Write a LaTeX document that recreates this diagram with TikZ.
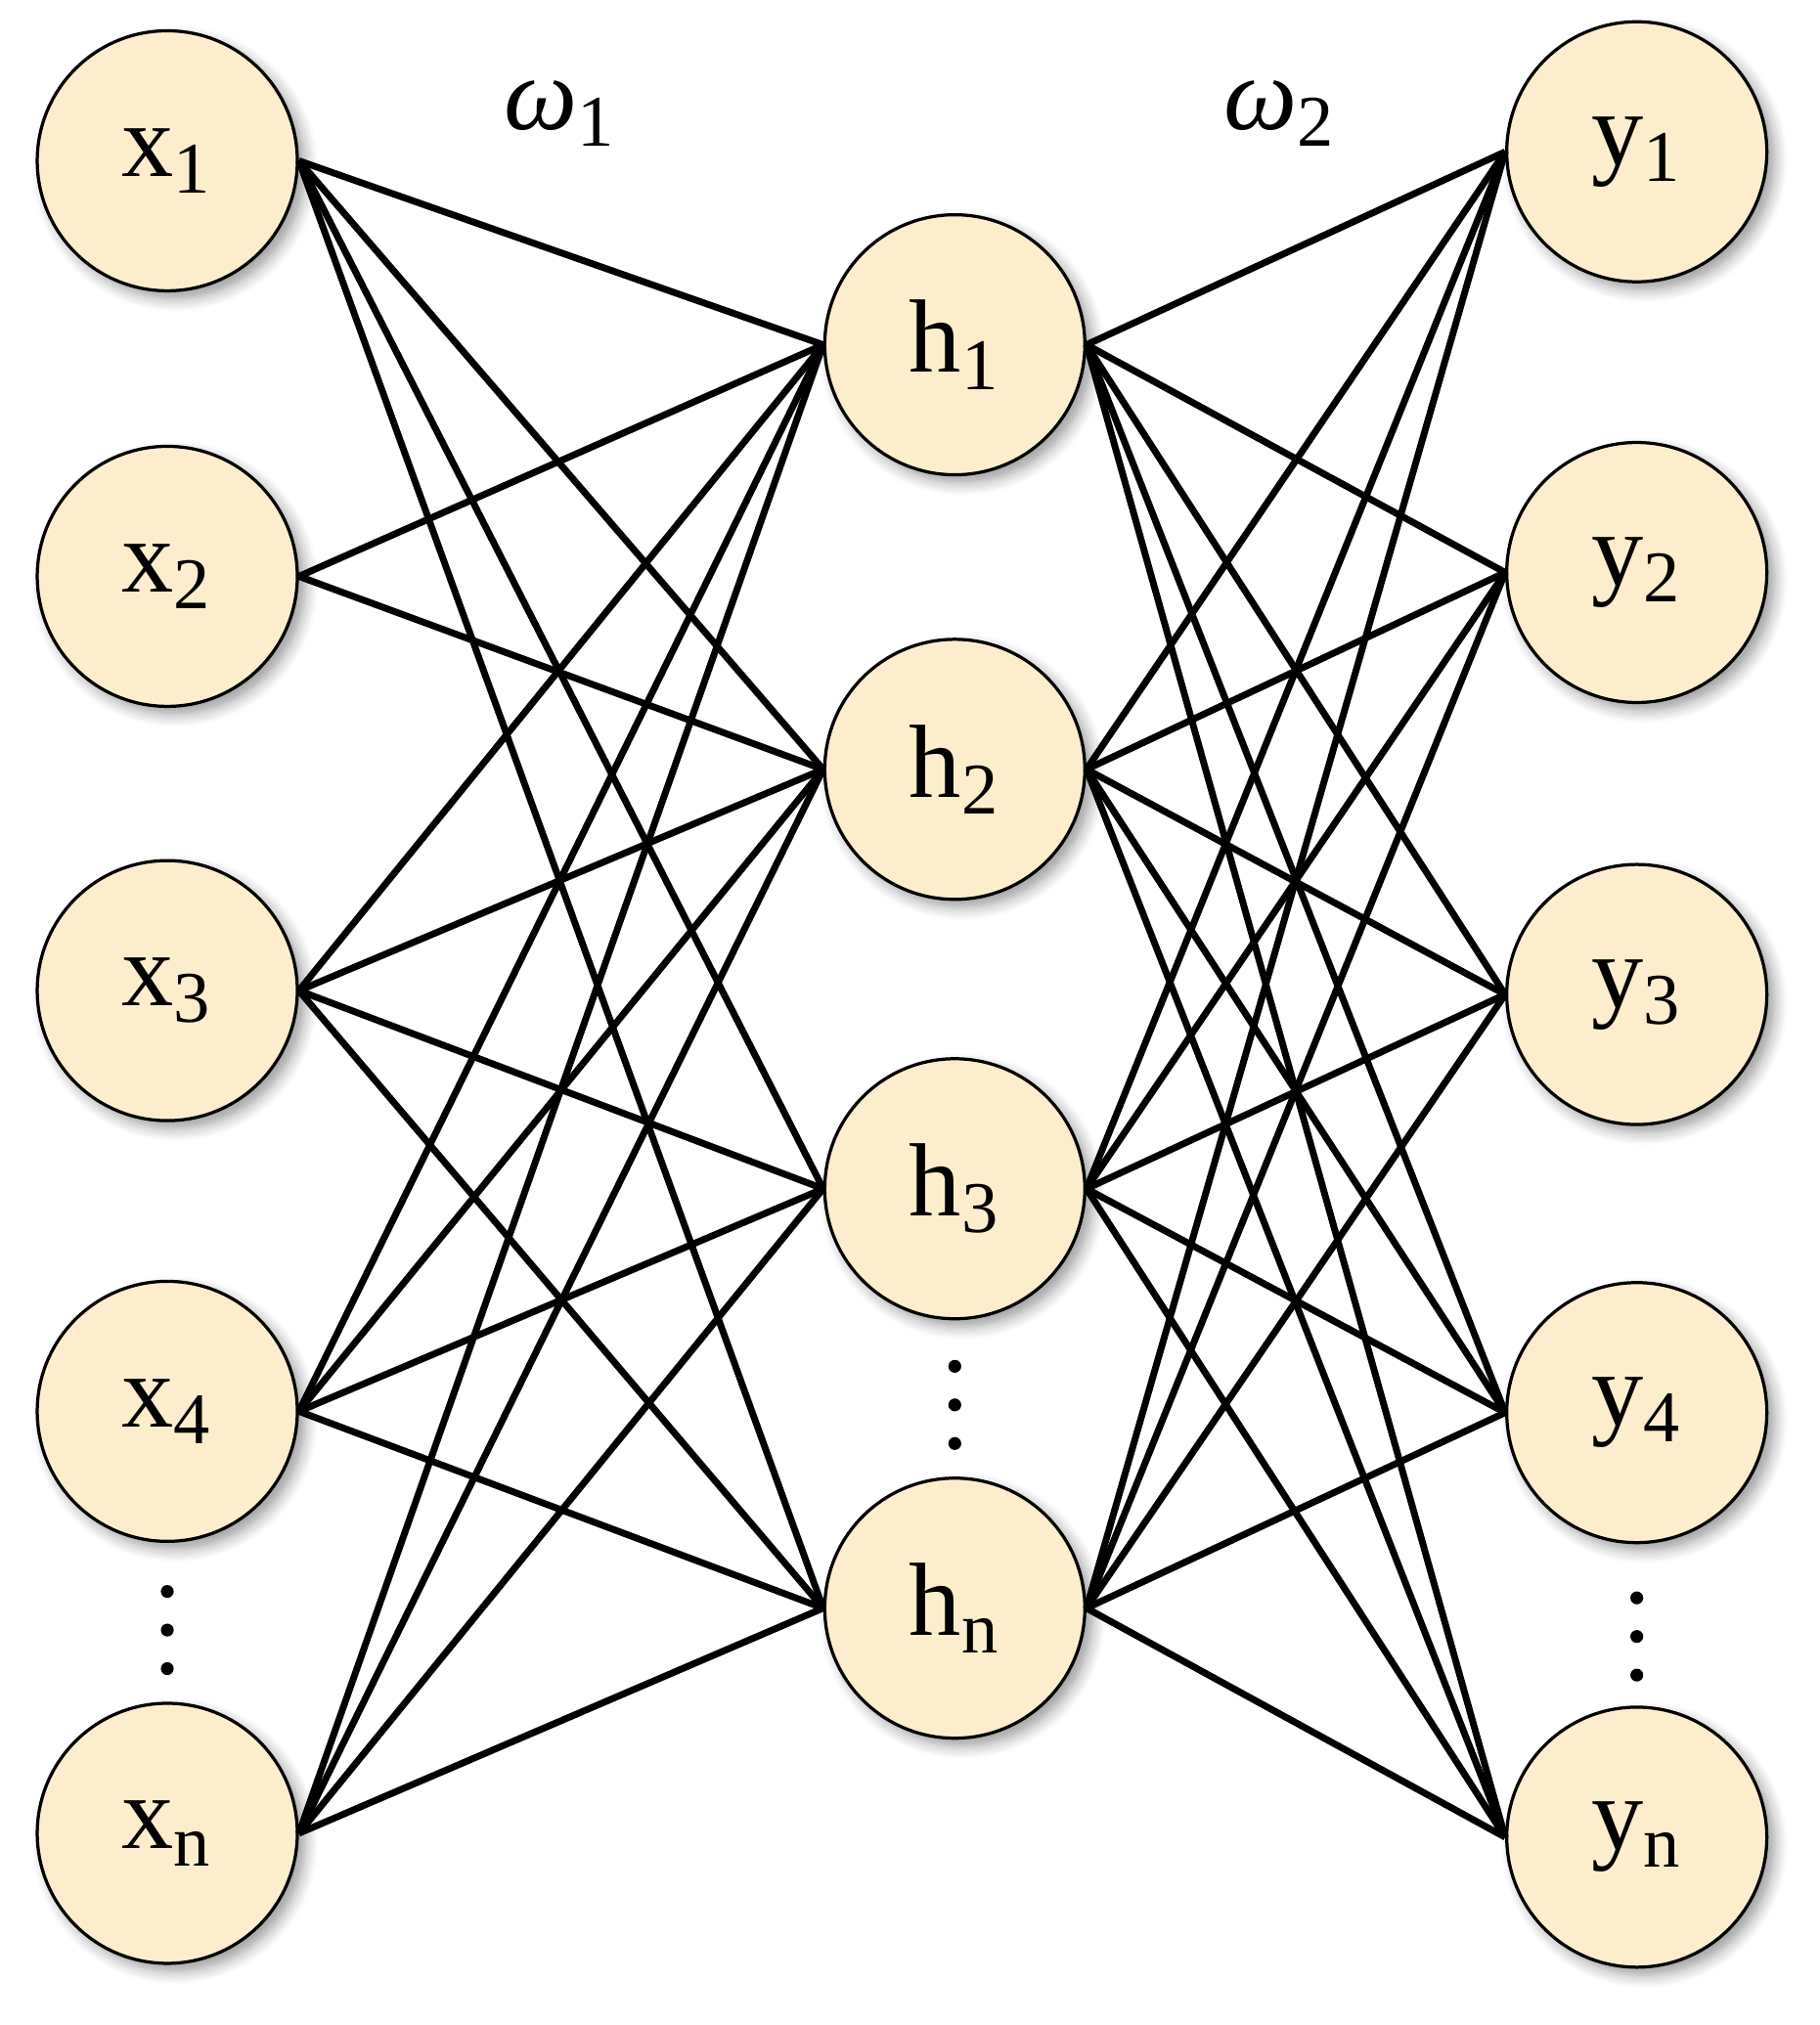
\documentclass[tikz,border=0pt]{standalone}
\usepackage{fontspec}
\setmainfont{Liberation Serif}
\usetikzlibrary{shadows.blur}
\definecolor{nfill}{RGB}{252,238,204}
\begin{document}
\begin{tikzpicture}[x=0.01cm,y=-0.01cm,
  neu/.style={circle,draw=black,line width=0.7pt,fill=nfill,minimum size=2.02cm,inner sep=0pt,
    font=\fontsize{23}{26}\selectfont,blur shadow={shadow xshift=0.06cm,shadow yshift=-0.06cm,shadow blur steps=6,shadow blur radius=0.1cm,shadow opacity=40}},
  con/.style={line width=1.5pt},
  dot/.style={circle,fill=black,inner sep=0pt,minimum size=0.1cm},
  lab/.style={font=\fontsize{23}{26}\selectfont}]
\useasboundingbox (0,0) rectangle (1414,1574);
\node[neu] (x1) at (130,125) {x\textsubscript{1}};
\node[neu] (x2) at (130,448) {x\textsubscript{2}};
\node[neu] (x3) at (130,770) {x\textsubscript{3}};
\node[neu] (x4) at (130,1097) {x\textsubscript{4}};
\node[neu] (x5) at (130,1425) {x\textsubscript{n}};
\node[neu] (h1) at (742,268) {h\textsubscript{1}};
\node[neu] (h2) at (742,598) {h\textsubscript{2}};
\node[neu] (h3) at (742,924) {h\textsubscript{3}};
\node[neu] (h4) at (742,1250) {h\textsubscript{n}};
\node[neu] (y1) at (1272,118) {y\textsubscript{1}};
\node[neu] (y2) at (1272,445) {y\textsubscript{2}};
\node[neu] (y3) at (1272,773) {y\textsubscript{3}};
\node[neu] (y4) at (1272,1098) {y\textsubscript{4}};
\node[neu] (y5) at (1272,1428) {y\textsubscript{n}};
\foreach \n/\xx/\yy in {a/130/1267,b/742/1092,c/1272/1272}{
  \node[dot] (\n1) at (\xx,\yy-30) {};
  \node[dot] (\n2) at (\xx,\yy) {};
  \node[dot] (\n3) at (\xx,\yy+30) {};}
\node[lab] (w1) at (435,88) {\textit{ω}\textsubscript{1}};
\node[lab] (w2) at (995,88) {\textit{ω}\textsubscript{2}};
\foreach \i in {1,3,4,5}{\foreach \j in {1,...,4}{
  \draw[con] (x\i.east) -- (h\j.west);}}
\draw[con] (x2.east) -- (h1.west);
\draw[con] (x2.east) -- (h2.west);
\foreach \i in {1,...,5}{\foreach \j in {1,...,4}{
  \draw[con] (h\j.east) -- (y\i.west);}}
\end{tikzpicture}
\end{document}
